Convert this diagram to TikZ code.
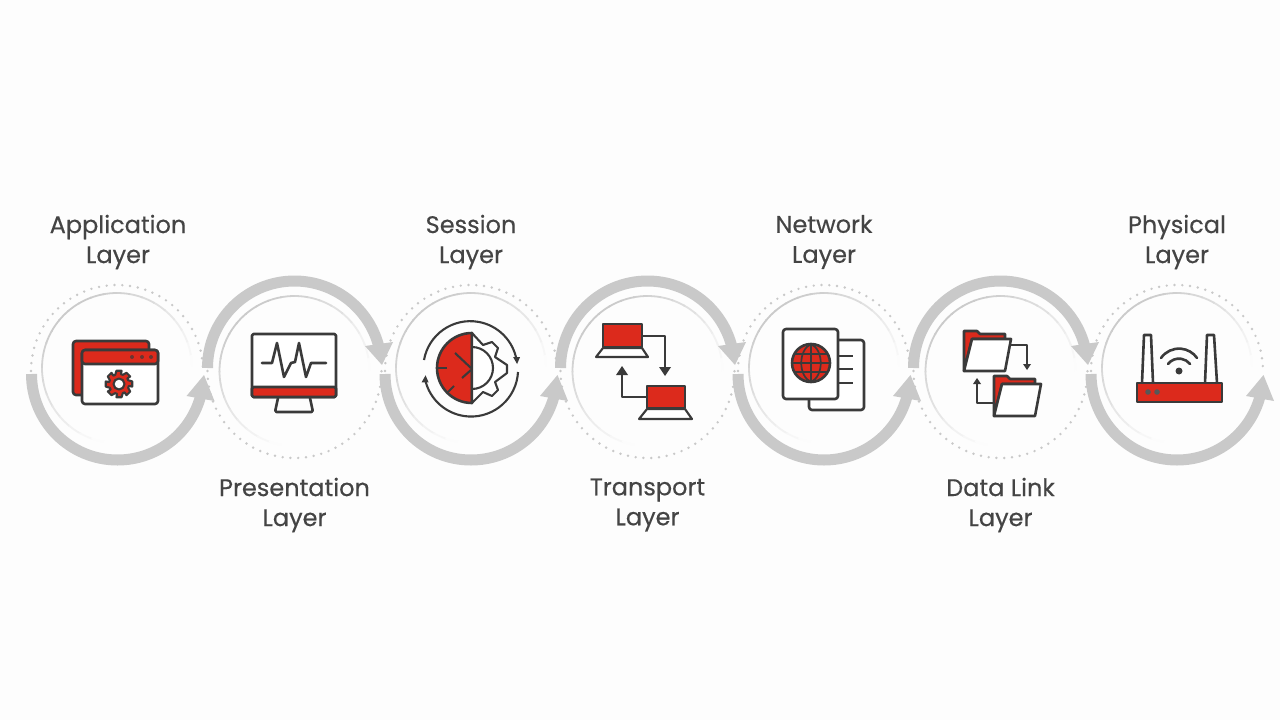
\documentclass[tikz,border=0pt]{standalone}
\usepackage{fontspec}
\setmainfont[FakeBold=0.35]{Poppins}
\definecolor{ringc}{HTML}{C9C9C9}
\definecolor{redc}{HTML}{DC2A1C}
\definecolor{darkc}{HTML}{3A3A3A}
\definecolor{textc}{HTML}{444444}
\definecolor{dotc}{HTML}{C9C9C9}
\definecolor{bgc}{HTML}{FDFDFD}
\tikzset{
  lbl/.style={align=center,text=textc,font=\fontsize{24}{30}\selectfont,inner sep=0pt},
  ring/.style={draw=ringc,line width=11pt},
  head/.style={fill=ringc,draw=none},
  dotring/.style={draw=dotc,line width=2.7pt,line cap=round,dash pattern=on 0pt off 7.8pt},
  ico/.style={draw=darkc,line width=2.6pt,line join=round},
  thin ico/.style={draw=darkc,line width=2.1pt,line join=round},
  redfill/.style={fill=redc}
}
\begin{document}
\begin{tikzpicture}[x=1pt,y=-1pt]
\fill[bgc] (0,0) rectangle (1280,720);
\useasboundingbox (0,0) rectangle (1280,720);
% pale inner rings fading towards lower right
\foreach \cx/\cy in {117/368,294.5/371,471/368,647.5/371,824/368,1000.5/371,1177/368}{
  \foreach \a in {0,10,...,350}{
    \pgfmathtruncatemacro{\m}{max(3,min(100,40+58*cos(\a-125)))}
    \draw[draw=ringc!\m!white,line width=1.8pt] ({\cx+75*cos(\a)},{\cy-75*sin(\a)}) arc[start angle=\a,delta angle=11,radius=75pt];
  }
}
% dotted half rings
\foreach \cx in {117,471,824,1177}{
  \draw[dotring] ({\cx-86},371) arc[start angle=180,end angle=0,radius=86pt];
}
\foreach \cx in {294.5,647.5,1000.5}{
  \draw[dotring] ({\cx-87},371) arc[start angle=180,end angle=360,radius=87pt];
}
% arrow rings
\foreach \cx in {117.5,471,824,1177}{
  \draw[ring] ({\cx-86},374) arc[start angle=180,end angle=347,radius=86pt];
  \fill[head] ({\cx+86.5},375) -- ({\cx+69},396) -- ({\cx+97},401) -- cycle;
}
\foreach \cx in {294.5,647.5,1000.5}{
  \draw[ring] ({\cx-87},368) arc[start angle=180,end angle=13,radius=87pt];
  \fill[head] ({\cx+87.5},365) -- ({\cx+70.5},346) -- ({\cx+98.5},342) -- cycle;
}
% labels
\node[lbl] (l1) at (118,242) {Application\\Layer};
\node[lbl] (l2) at (294.5,505) {Presentation\\Layer};
\node[lbl] (l3) at (471,242) {Session\\Layer};
\node[lbl] (l4) at (647.5,505) {Transport\\Layer};
\node[lbl] (l5) at (824,242) {Network\\Layer};
\node[lbl] (l6) at (1000.5,505) {Data Link\\Layer};
\node[lbl] (l7) at (1177,242) {Physical\\Layer};
% icon 1: windows
\draw[ico,redfill,rounded corners=3pt] (73,341) rectangle (149,395);
\draw[ico,fill=white,rounded corners=3pt] (82,350) rectangle (158,404);
\draw[ico,redfill,rounded corners=3pt] (82,364) -- (82,350) -- (158,350) -- (158,364) -- cycle;
\foreach \x in {132,142,151}{\fill[darkc!70!redc] (\x,357) circle[radius=2pt];}
\draw[thin ico,redfill] ({119+13.5*cos(-11)},{384-13.5*sin(-11)}) \foreach \a in {0,45,...,315}{
   -- ({119+13.5*cos(\a-11)},{384-13.5*sin(\a-11)}) -- ({119+13.5*cos(\a+11)},{384-13.5*sin(\a+11)}) -- ({119+10*cos(\a+22)},{384-10*sin(\a+22)}) -- ({119+10*cos(\a+34)},{384-10*sin(\a+34)})
 } -- cycle;
\draw[thin ico,fill=white] (119,384) circle[radius=5.5pt];
% icon 2: monitor
\draw[ico,rounded corners=1.5pt,fill=white] (252,334) rectangle (336,397);
\draw[ico,redfill,rounded corners=1.5pt] (252,387) rectangle (336,397);
\draw[ico,rounded corners=1.5pt] (278,398) -- (275,412) -- (313,412) -- (310,398);
\draw[ico,line cap=round] (262,363) -- (272,363) -- (277,343) -- (284,377) -- (291,363) -- (295,362) -- (299,343) -- (306,377) -- (311,363) -- (326,363);
% icon 3: session
\fill[redc] (472,333) arc[start angle=90,end angle=270,radius=35pt] -- cycle;
\draw[ico] (472,403) arc[start angle=270,end angle=90,radius=35pt] -- cycle;
\draw[thin ico,fill=white] (472,333) -- (483,345) -- (492,342) -- (498,348) -- (495,357) -- (507,365) -- (507,373) -- (495,382) -- (498,390) -- (492,396) -- (483,392) -- (472,403) -- cycle;
\draw[thin ico] (472,347) arc[start angle=90,end angle=-90,radius=21pt];
\draw[thin ico] (455,353) -- (471,368);
\draw[thin ico] (462,378) -- (471,370);
\draw[thin ico] (437,368) -- (447,368);
\draw[thin ico] (454,386) -- (447,393);
\coordinate (c3a) at (424,360);
\draw[thin ico] (c3a) arc[start angle=170,end angle=10,radius=47pt] coordinate (c3b);
\fill[darkc] (c3b) ++(-3.5,-3) -- ++(7,0) -- ++(-3,7) -- cycle;
\coordinate (c3c) at (518,372);
\draw[thin ico] (c3c) arc[start angle=-3,end angle=-168,radius=47pt] coordinate (c3d);
\fill[darkc] (c3d) ++(-3.5,3) -- ++(7,0) -- ++(-3,-7) -- cycle;
% icon 4: transport
\draw[ico,redfill] (603,324) rectangle (642,347);
\draw[thin ico,fill=white] (603,348) -- (642,348) -- (648,357) -- (596,357) -- cycle;
\draw[ico,redfill] (647,386) rectangle (685,408);
\draw[thin ico,fill=white] (647,409) -- (685,409) -- (692,419) -- (639,419) -- cycle;
\draw[thin ico] (642,336) -- (665,336) -- (665,368);
\fill[darkc] (659,367) -- (671,367) -- (665,376) -- cycle;
\draw[thin ico] (647,397) -- (622,397) -- (622,374);
\fill[darkc] (616,375) -- (628,375) -- (622,366) -- cycle;
% icon 5: network
\draw[ico,rounded corners=3pt,fill=white] (809,340) -- (864,340) -- (864,410) -- (809,410) -- cycle;
\draw[ico,rounded corners=3pt,fill=white] (783,329) rectangle (838,399);
\foreach \y in {356,369,383}{\draw[thin ico] (838,\y) -- (853,\y);}
\begin{scope}
\clip (811,363) circle[radius=19pt];
\fill[redc] (792,344) rectangle (830,382);
\draw[draw=darkc,line width=1.7pt] (811,344) -- (811,382) (792,363) -- (830,363) (792,354) -- (830,354) (792,372) -- (830,372);
\draw[draw=darkc,line width=1.7pt] (811,344) .. controls (798,350) and (798,376) .. (811,382);
\draw[draw=darkc,line width=1.7pt] (811,344) .. controls (824,350) and (824,376) .. (811,382);
\end{scope}
\draw[ico] (811,363) circle[radius=19pt];
% icon 6: data link
\foreach \dx/\dy in {0/0,30/45}{
  \begin{scope}[shift={(\dx,\dy)}]
  \draw[ico,redfill] (964,371) -- (964,331) -- (977,331) -- (980,334) -- (1005,334) -- (1005,339) -- (972,339) -- cycle;
  \draw[ico,fill=white] (972,339) -- (1011,339) -- (1005,371) -- (964,371) -- cycle;
  \end{scope}
}
\draw[thin ico] (1010,345) -- (1027,345) -- (1027,365);
\fill[darkc] (1023,364) -- (1031,364) -- (1027,370) -- cycle;
\draw[thin ico] (994,403) -- (977,403) -- (977,383);
\fill[darkc] (973,384) -- (981,384) -- (977,378) -- cycle;
% icon 7: router
\draw[ico,fill=white] (1142,383) -- (1144,335) -- (1151,335) -- (1153,383);
\draw[ico,fill=white] (1205,383) -- (1207,335) -- (1214,335) -- (1217,383);
\draw[ico,redfill] (1137,383) rectangle (1222,402);
\fill[darkc!85!white] (1148,392) circle[radius=2.8pt] (1157,392) circle[radius=2.8pt];
\fill[darkc] (1179,371) circle[radius=3.5pt];
\draw[ico,line cap=round] ({1179-18},358) arc[start angle=145,end angle=35,radius=22pt];
\draw[ico,line cap=round] ({1179-11},364) arc[start angle=142,end angle=38,radius=14pt];
\end{tikzpicture}
\end{document}
